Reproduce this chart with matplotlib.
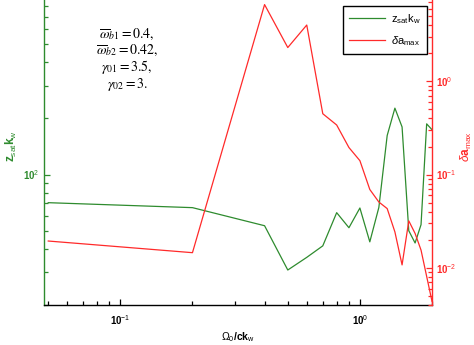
import matplotlib
matplotlib.use("Agg")
import matplotlib.pyplot as plt
from matplotlib.ticker import LogLocator, FuncFormatter, NullFormatter
import numpy as np

plt.rcParams['font.family'] = ['Liberation Sans', 'DejaVu Sans']
plt.rcParams['mathtext.fontset'] = 'custom'
plt.rcParams['mathtext.rm'] = 'Liberation Sans'
plt.rcParams['mathtext.it'] = 'Liberation Sans:italic'
plt.rcParams['mathtext.bf'] = 'Liberation Sans:bold'

# Data
omega = [0.05, 0.2, 0.4, 0.5, 0.6, 0.7, 0.8, 0.9, 1.0, 1.1, 1.2, 1.3, 1.4, 1.5, 1.6, 1.7, 1.8, 1.9, 2.0]
z_sat_kw = [70.7, 66.5, 53.2, 30.8, 36.0, 41.5, 62.5, 51.9, 66.2, 43.6, 66.7, 162, 227, 180, 50, 43, 53.9, 187, 174]
delta_a_max = [0.0194, 0.01455, 6.64, 2.30, 4.01, 0.449, 0.34, 0.195, 0.141, 0.0692, 0.0508, 0.0432,
               0.0243, 0.01076, 0.0319, 0.0234, 0.0155, 0.0081, 0.00438]

xlim = (0.048, 2.0)
ylim_left = (20, 1000)
ylim_right = (0.004, 10)

GREEN = '#2e8b2e'
RED = '#ff2a2a'

fig = plt.figure(figsize=(4.74, 3.45), dpi=100)
W, H = 474, 345
l, r, b, t = 44, 432, 305, -12
ax = fig.add_axes([l / W, (H - b) / H, (r - l) / W, (b - t) / H])
ax2 = ax.twinx()

ln1, = ax.plot(omega, z_sat_kw, color=GREEN, lw=0.9, label=r'z$_{\rm sat}$k$_{\rm w}$')
ln2, = ax2.plot(omega, delta_a_max, color=RED, lw=0.9, label=r'$\delta$a$_{\rm max}$')

for a in (ax, ax2):
    a.set_xscale('log')
    a.set_yscale('log')
    a.set_xlim(*xlim)
ax.set_ylim(*ylim_left)
ax2.set_ylim(*ylim_right)

def make_fmt(max_exp):
    def fmt(v, pos):
        e = int(round(np.log10(v)))
        if e > max_exp:
            return ''
        return r'10$^{%d}$' % e
    return fmt

for a, mx in ((ax, 2), (ax2, 0)):
    a.xaxis.set_major_locator(LogLocator(base=10, numticks=10))
    a.xaxis.set_minor_locator(LogLocator(base=10, subs=np.arange(2, 10) * 1.0, numticks=20))
    a.xaxis.set_major_formatter(FuncFormatter(make_fmt(5)))
    a.xaxis.set_minor_formatter(NullFormatter())
    a.yaxis.set_major_locator(LogLocator(base=10, numticks=10))
    a.yaxis.set_minor_locator(LogLocator(base=10, subs=np.arange(2, 10) * 1.0, numticks=20))
    a.yaxis.set_major_formatter(FuncFormatter(make_fmt(mx)))
    a.yaxis.set_minor_formatter(NullFormatter())

# spines
for a in (ax, ax2):
    a.spines['top'].set_visible(False)
ax.spines['left'].set_color(GREEN)
ax.spines['right'].set_visible(False)
ax2.spines['left'].set_visible(False)
ax2.spines['bottom'].set_visible(False)
ax2.spines['right'].set_color(RED)
ax.spines['bottom'].set_color('black')
for s in ('left', 'bottom'):
    ax.spines[s].set_linewidth(1.0)
ax2.spines['right'].set_linewidth(1.0)

ax.tick_params(axis='x', which='both', direction='in', color='black', labelcolor='black',
               labelsize=7, pad=6, width=0.9, top=False)
ax.tick_params(axis='x', which='major', length=4.5)
ax.tick_params(axis='x', which='minor', length=3)
ax.tick_params(axis='y', which='both', direction='in', color=GREEN, labelcolor=GREEN,
               labelsize=7, pad=3, width=0.9, right=False)
ax.tick_params(axis='y', which='major', length=4.5)
ax.tick_params(axis='y', which='minor', length=3)
ax2.tick_params(axis='y', which='both', direction='in', color=RED, labelcolor=RED,
                labelsize=7, pad=3, width=0.9, left=False)
ax2.tick_params(axis='y', which='major', length=4.5)
ax2.tick_params(axis='y', which='minor', length=3)
ax2.tick_params(axis='x', which='both', bottom=False, top=False, labelbottom=False)
for lab in ax.get_xticklabels() + ax.get_yticklabels() + ax2.get_yticklabels():
    lab.set_fontweight('bold')

ax.set_xlabel(r'$\Omega_0$/ck$_{\rm w}$', fontsize=7.5, fontweight='bold', labelpad=2)
ax.set_ylabel(r'z$_{\rm sat}$k$_{\rm w}$', fontsize=8.5, color=GREEN, fontweight='bold', labelpad=3)
ax2.set_ylabel(r'$\delta$a$_{\rm max}$', fontsize=8.5, color=RED, fontweight='bold', labelpad=2)

leg = ax2.legend(handles=[ln1, ln2], loc='upper right', bbox_to_anchor=(0.987, 0.943),
                 borderaxespad=0.0,
                 fontsize=8, frameon=True, fancybox=False, framealpha=1, edgecolor='black',
                 handlelength=3.2, borderpad=0.55, labelspacing=0.75, handletextpad=0.6)
leg.get_frame().set_linewidth(1.0)

txt = ('$\\overline{\\omega}_{b1}=0.4,$\n$\\overline{\\omega}_{b2}=0.42,$\n'
       '$\\gamma_{01}=3.5,$\n$\\gamma_{02}=3.$')
fig.text(127 / W, 1 - 60 / H, txt, ha='center', va='center', fontsize=10,
         math_fontfamily='stix', linespacing=1.0)

fig.savefig('out.png', dpi=100)
